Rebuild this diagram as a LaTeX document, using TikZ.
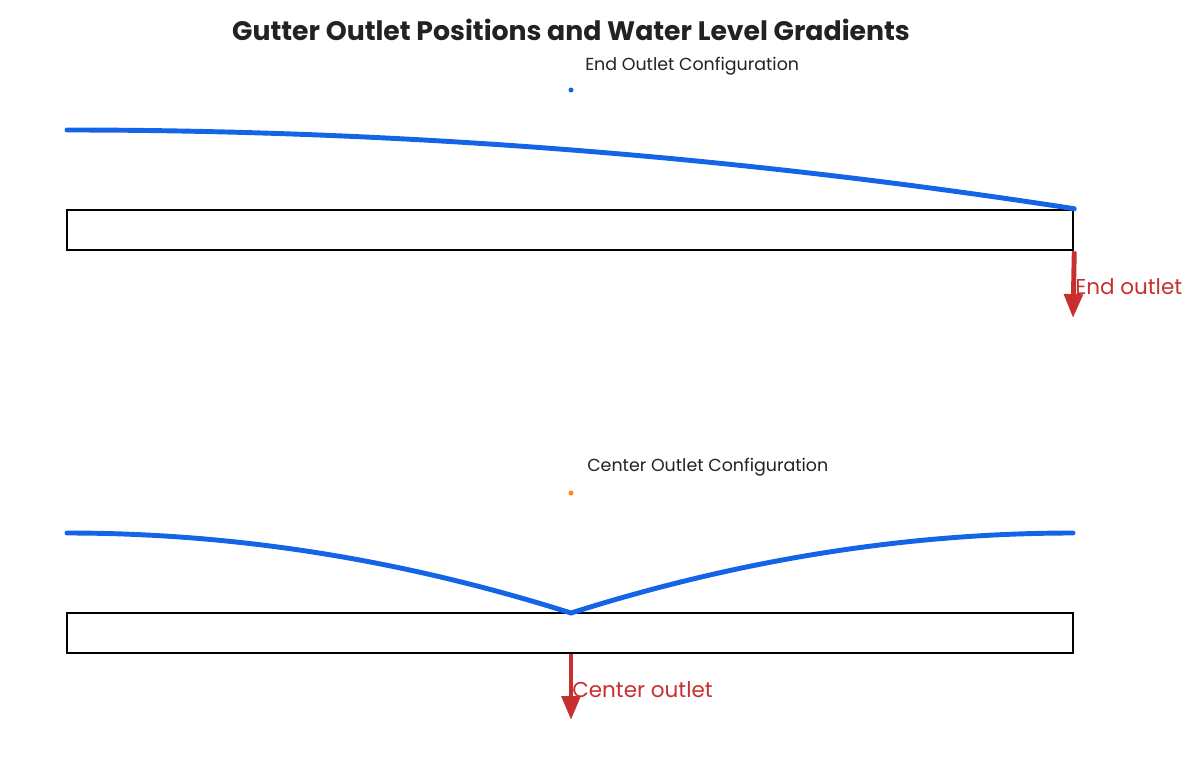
\documentclass[tikz,border=0pt]{standalone}
\usepackage{fontspec}
\setmainfont{Poppins}
\usetikzlibrary{arrows.meta}
\definecolor{waterblue}{RGB}{20,100,232}
\definecolor{outletred}{RGB}{200,48,48}
\definecolor{dotorange}{RGB}{255,140,0}
\definecolor{inkgray}{RGB}{34,34,34}
\tikzset{
  gutter/.style={draw=black, line width=1.8pt, minimum width=251.5mm, minimum height=10mm, inner sep=0pt},
  water/.style={waterblue, line width=3.5pt, line cap=round},
  outlet/.style={outletred, line width=3.5pt, -{Triangle[width=13pt,length=17pt]}},
  outletlabel/.style={outletred, font=\fontsize{15.3}{17}\selectfont, anchor=west, inner sep=0pt},
  config/.style={inkgray, font=\fontsize{12.4}{14}\selectfont, anchor=west, inner sep=0pt}
}
\begin{document}
\begin{tikzpicture}[scale=0.25]
\useasboundingbox (0,0) rectangle (120,-76.8);
% title
\node [inkgray] (title) at (57.1,-3.0) {\fontsize{19.0}{21}\selectfont\bfseries Gutter Outlet Positions and Water Level Gradients};
% end outlet
\node [config] (endcfg) at (58.5,-6.6) {End Outlet Configuration};
\fill [waterblue] (57.1,-9.0) circle (0.25);
\node [gutter] (gutterA) at (57.0,-23.0) {};
\draw [water] (6.7,-13.0) .. controls (40.2,-13.0) and (73.8,-15.67) .. (gutterA.north east);
\coordinate (endA) at (107.3,-31.8);
\draw [outlet] (gutterA.south east) -- (endA);
\node [outletlabel] (endlbl) at (107.5,-28.7) {End outlet};
% center outlet
\node [config] (centercfg) at (58.7,-46.7) {Center Outlet Configuration};
\fill [dotorange] (57.1,-49.3) circle (0.25);
\node [gutter] (gutterB) at (57.0,-63.3) {};
\coordinate (lowB) at (57.1,-61.3);
\draw [water] (6.7,-53.3) .. controls (23.5,-53.3) and (40.3,-55.97) .. (lowB)
  .. controls (73.9,-55.97) and (90.7,-53.3) .. (107.3,-53.3);
\coordinate (endB) at (57.1,-72.0);
\draw [outlet] (gutterB.south -| lowB) -- (endB);
\node [outletlabel] (centerlbl) at (57.2,-69.0) {Center outlet};
\end{tikzpicture}
\end{document}
